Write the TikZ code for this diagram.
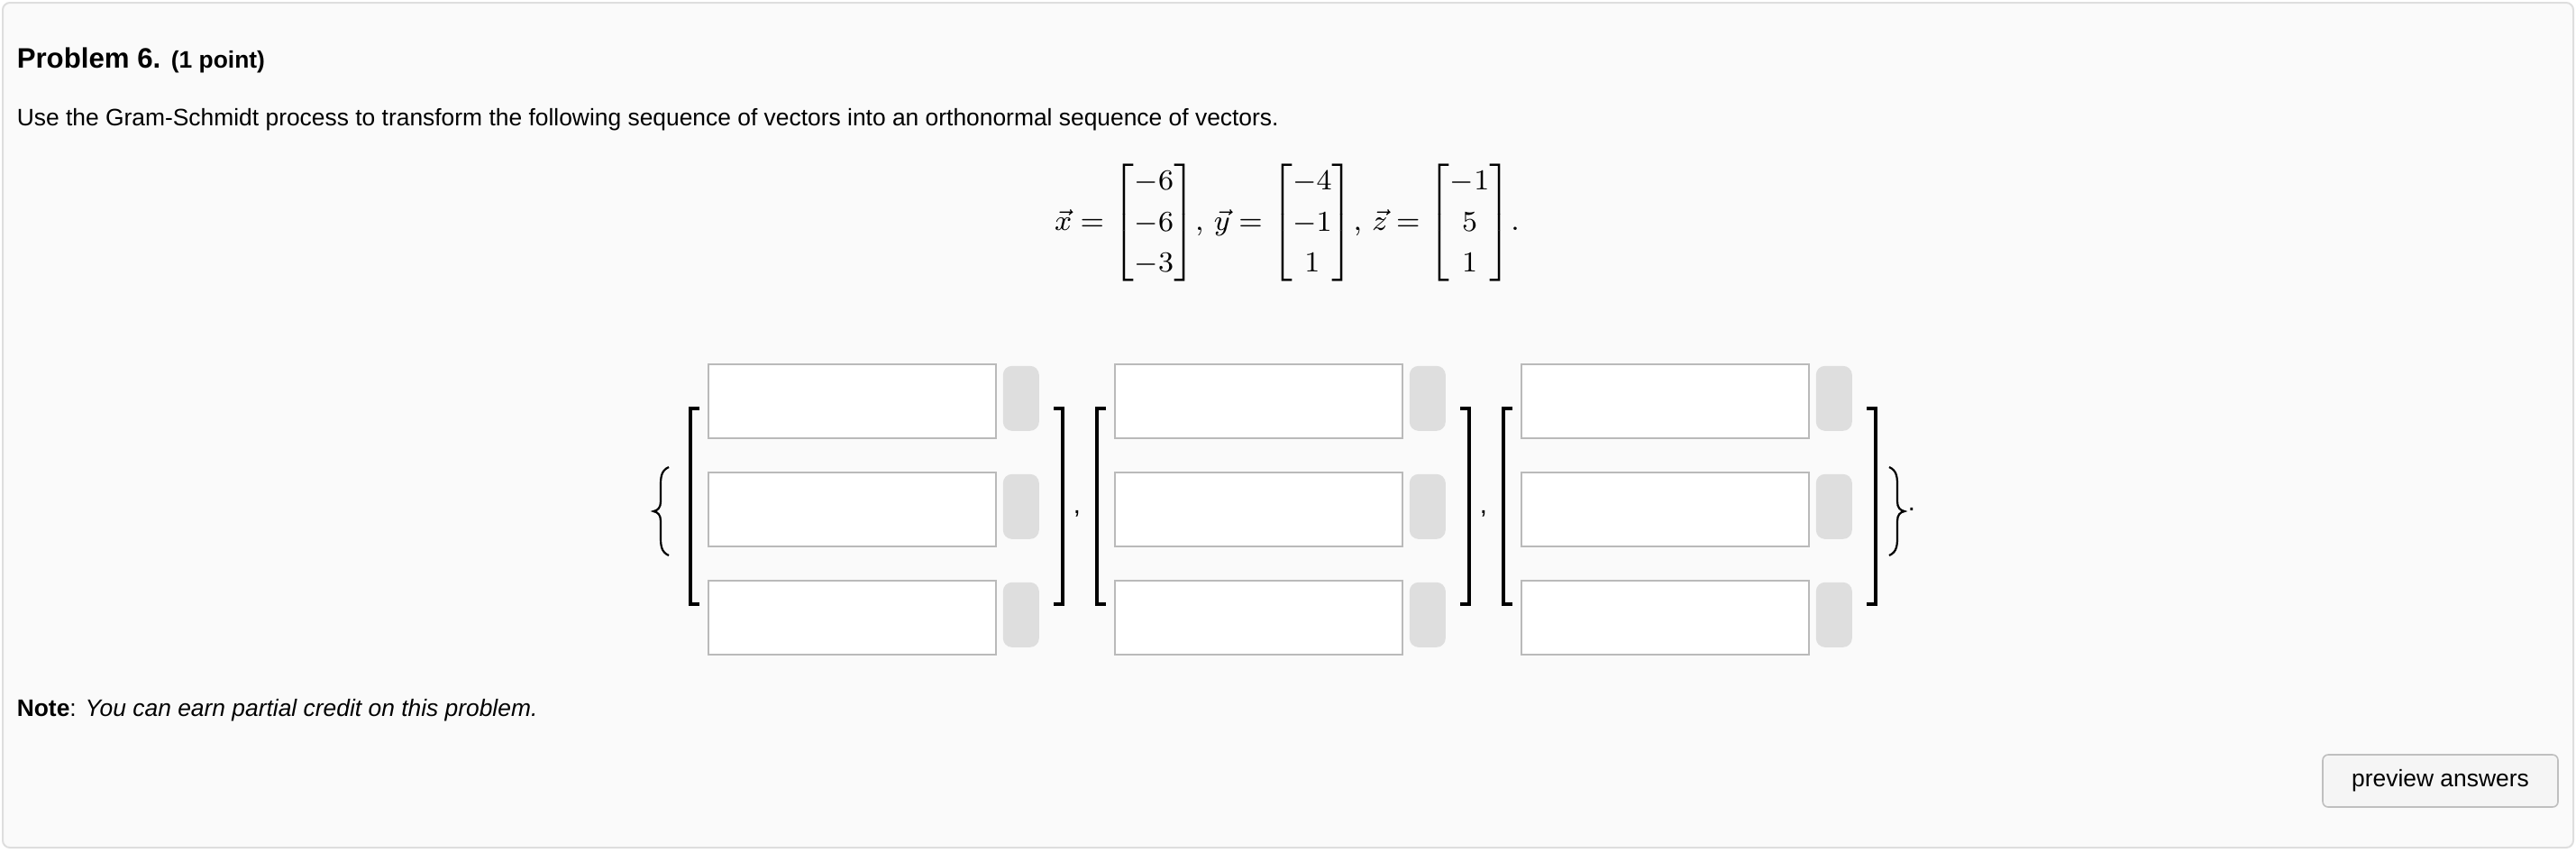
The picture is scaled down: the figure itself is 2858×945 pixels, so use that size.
\documentclass[tikz,border=0pt]{standalone}
\usepackage{amsmath}
\usepackage{fontspec}
\setmainfont{Liberation Sans}
\begin{document}
\begin{tikzpicture}[x=0.25pt,y=-0.25pt,
  ansbox/.style={draw=black!27,fill=white,line width=0.5pt},
  pill/.style={fill=black!13,rounded corners=2.5pt},
  brk/.style={line width=0.8pt},
  txt/.style={anchor=west,inner sep=0pt,font=\fontsize{6.6}{8}\selectfont}]
\useasboundingbox (0,0) rectangle (2858,945);
\draw[fill=black!2,draw=black!13,line width=0.5pt,rounded corners=2pt] (3,3) rectangle (2855,940);
\node[txt,font=\fontsize{7.8}{9}\selectfont\bfseries] (title) at (18,67) {Problem 6. {\fontsize{6.6}{8}\selectfont(1 point)}};
\node[txt] (body) at (18,133) {Use the Gram-Schmidt process to transform the following sequence of vectors into an orthonormal sequence of vectors.};
\node[inner sep=0pt,font=\fontsize{7.8}{9.4}\selectfont] (eq) at (1428,247) {\renewcommand{\arraystretch}{1.2}\setlength{\arraycolsep}{3pt}$\vec{x}=\begin{bmatrix}-6\\-6\\-3\end{bmatrix}\!,\,\vec{y}=\begin{bmatrix}-4\\-1\\1\end{bmatrix}\!,\,\vec{z}=\begin{bmatrix}-1\\5\\1\end{bmatrix}\!.$};
\foreach \g in {0,1,2}{
  \pgfmathsetmacro{\dx}{451*\g}
  \begin{scope}[xshift=\dx*0.25pt]
  \foreach \r/\yy in {a/403,b/523,c/643}{
    \node[ansbox,minimum width=79.75pt,minimum height=20.5pt,anchor=north west,inner sep=0pt] (box\g\r) at (785,\yy) {};
    \node[pill,minimum width=10pt,minimum height=18pt,anchor=north west,inner sep=0pt] (pill\g\r) at (1112,\yy+2) {};
  }
  \draw[brk] (776,453) -- (766,453) -- (766,670) -- (776,670);
  \draw[brk] (1169,453) -- (1179,453) -- (1179,670) -- (1169,670);
  \end{scope}
}
\node[inner sep=0pt,font=\fontsize{7.3}{8}\selectfont] (c1) at (1195,570) {,};
\node[inner sep=0pt,font=\fontsize{7.3}{8}\selectfont] (c2) at (1646,570) {,};
\draw[line width=0.55pt] (742,518) .. controls (733,522) and (733,530) .. (733,540) -- (733,556) .. controls (733,563) and (730,566) .. (725,567) .. controls (730,568) and (733,571) .. (733,578) -- (733,594) .. controls (733,604) and (733,612) .. (742,616);
\draw[line width=0.55pt] (2096,518) .. controls (2105,522) and (2105,530) .. (2105,540) -- (2105,556) .. controls (2105,563) and (2108,566) .. (2113,567) .. controls (2108,568) and (2105,571) .. (2105,578) -- (2105,594) .. controls (2105,604) and (2105,612) .. (2096,616);
\node[inner sep=0pt,font=\fontsize{7.3}{8}\selectfont] (dot) at (2121,565) {.};
\node[txt] (note) at (18,788) {\textbf{Note}: \textit{You can earn partial credit on this problem.}};
\node[draw=black!25,fill=black!4,rounded corners=1.5pt,minimum width=65.25pt,minimum height=14.5pt,inner sep=0pt,font=\fontsize{6.6}{8}\selectfont] (prev) at (2707.5,866) {preview answers};
\end{tikzpicture}
\end{document}
